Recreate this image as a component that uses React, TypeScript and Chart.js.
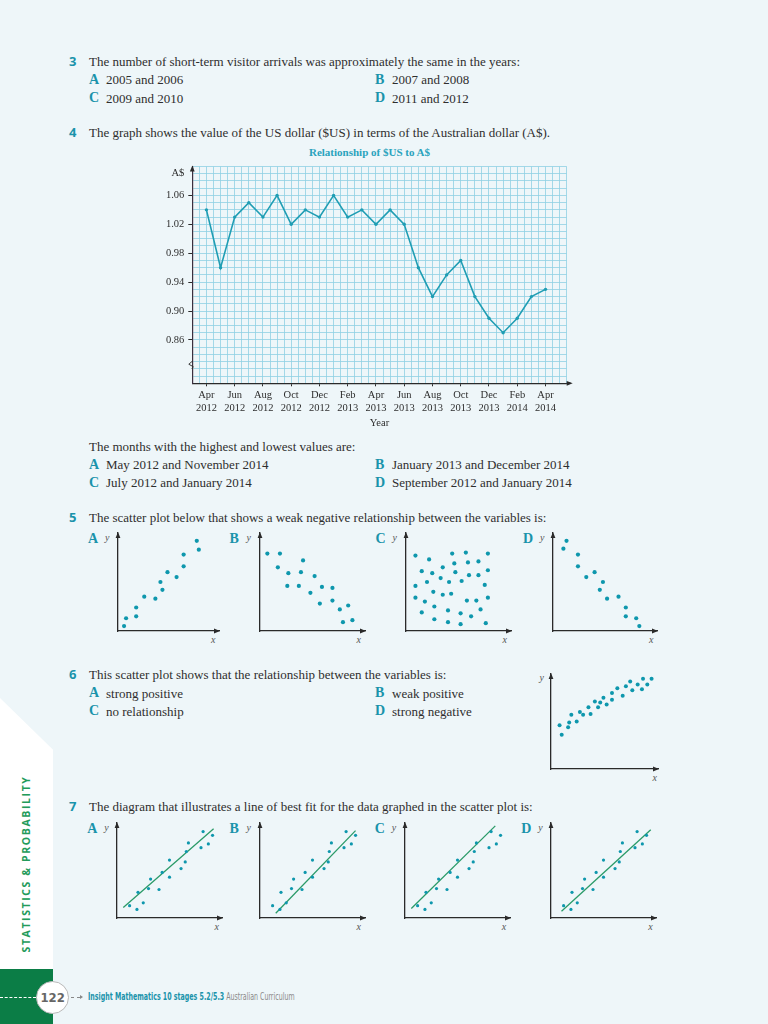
import React, { useEffect, useRef } from "react";
import { Chart, registerables } from "chart.js";

Chart.register(...registerables);

// ---------------- Q4 line chart data ----------------
const months = [
  "Apr 2012", "May 2012", "Jun 2012", "Jul 2012", "Aug 2012", "Sep 2012", "Oct 2012", "Nov 2012", "Dec 2012",
  "Jan 2013", "Feb 2013", "Mar 2013", "Apr 2013", "May 2013", "Jun 2013", "Jul 2013", "Aug 2013", "Sep 2013",
  "Oct 2013", "Nov 2013", "Dec 2013", "Jan 2014", "Feb 2014", "Mar 2014", "Apr 2014",
];
const usdInAud = [
  1.04, 0.96, 1.03, 1.05, 1.03, 1.06, 1.02, 1.04, 1.03,
  1.06, 1.03, 1.04, 1.02, 1.04, 1.02, 0.96, 0.92, 0.95,
  0.97, 0.92, 0.89, 0.87, 0.89, 0.92, 0.93,
];
const yTickLabelValues = [0.86, 0.9, 0.94, 0.98, 1.02, 1.06];
const yUnitLabel = "A$";
const yUnitLabelAt = 1.09;
const yBreakAt = 0.825;
const chartTitle = "Relationship of $US to A$";
const xAxisTitle = "Year";

// ---------------- Scatter plot data (x, y in 0..100 of each small axis) ----------------
const q5A = [[6, 5], [8, 13], [18, 15], [18, 24], [26, 35], [37, 33], [42, 50], [44, 42], [49, 60], [58, 55], [65, 66], [65, 78], [78, 92], [80, 83]];
const q5B = [[7, 79], [19, 79], [41, 72], [17, 65], [27, 59], [39, 60], [52, 56], [26, 46], [37, 46], [59, 45], [69, 44], [48, 39], [57, 28], [69, 31], [76, 22], [84, 26], [79, 9], [88, 11]];
const q5C = [[9, 77], [22, 73], [44, 79], [57, 80], [78, 79], [15, 61], [25, 59], [35, 65], [46, 69], [47, 60], [59, 70], [69, 71], [78, 62], [9, 46], [20, 50], [33, 54], [41, 50], [53, 51], [60, 57], [69, 57], [75, 47], [9, 34], [18, 30], [26, 40], [35, 37], [43, 38], [58, 31], [67, 31], [78, 34], [15, 19], [27, 25], [40, 21], [52, 18], [62, 15], [71, 22], [27, 12], [40, 9], [52, 7], [76, 8]];
const q5D = [[13, 92], [10, 84], [24, 78], [24, 66], [32, 55], [40, 60], [48, 50], [45, 42], [52, 33], [63, 35], [70, 24], [70, 15], [80, 13], [83, 5]];
const q6Points = [[8, 46], [10, 36], [16, 44], [17, 49], [19, 57], [24, 50], [27, 60], [30, 57], [35, 65], [37, 58], [41, 71], [44, 65], [46, 70], [49, 75], [52, 68], [57, 80], [57, 73], [62, 85], [67, 77], [70, 87], [74, 92], [76, 83], [81, 89], [85, 84], [86, 95], [90, 89], [94, 95]];
const q7Points = [[12, 13], [19, 9], [25, 16], [20, 27], [30, 31], [32, 41], [40, 30], [43, 48], [50, 61], [50, 43], [61, 52], [65, 59], [66, 70], [68, 79], [80, 74], [82, 91], [87, 78], [91, 87]];
const q7LineA = [[6, 11], [92, 94]];
const q7LineB = [[15, 5], [91, 92]];
const q7LineC = [[6, 10], [86, 97]];
const q7LineD = [[10, 7], [95, 93]];

// ---------------- Styles ----------------
const BG = "#eef6f9";
const TEXT = "#2e2e2e";
const TEAL = "#1a93ab";
const LINE = "#1f9db3";
const DOT = "#0e97ad";
const GRID = "#8fd0e3";
const AXIS = "#2a2a2a";
const FIT = "#2a9a68";
const SERIF = '"Liberation Serif", "Times New Roman", serif';
const SANS = '"Open Sans", "DejaVu Sans", sans-serif';
const COND = '"DejaVu Sans Condensed", "DejaVu Sans", sans-serif';

const miniArrows = {
  id: "miniArrows",
  afterDraw(chart: any) {
    const { ctx, chartArea } = chart;
    const { left, right, top, bottom } = chartArea;
    ctx.save();
    ctx.fillStyle = AXIS;
    ctx.beginPath();
    ctx.moveTo(left, top - 1);
    ctx.lineTo(left - 2.4, top + 5);
    ctx.lineTo(left + 2.4, top + 5);
    ctx.closePath();
    ctx.fill();
    ctx.beginPath();
    ctx.moveTo(right + 1, bottom);
    ctx.lineTo(right - 5, bottom - 2.4);
    ctx.lineTo(right - 5, bottom + 2.4);
    ctx.closePath();
    ctx.fill();
    ctx.restore();
  },
};

const mainDecor = {
  id: "mainDecor",
  afterDraw(chart: any) {
    const { ctx, chartArea } = chart;
    const { left, right, top, bottom } = chartArea;
    ctx.save();
    ctx.strokeStyle = AXIS;
    ctx.fillStyle = AXIS;
    ctx.lineWidth = 1.2;
    ctx.beginPath();
    ctx.moveTo(right, bottom);
    ctx.lineTo(right + 4, bottom);
    ctx.stroke();
    ctx.beginPath();
    ctx.moveTo(right + 6, bottom);
    ctx.lineTo(right, bottom - 2.4);
    ctx.lineTo(right, bottom + 2.4);
    ctx.closePath();
    ctx.fill();
    ctx.beginPath();
    ctx.moveTo(left, top - 1);
    ctx.lineTo(left - 2.4, top + 5);
    ctx.lineTo(left + 2.4, top + 5);
    ctx.closePath();
    ctx.fill();
    const yb = chart.scales.y.getPixelForValue(yBreakAt);
    ctx.lineWidth = 0.9;
    ctx.beginPath();
    ctx.moveTo(left, yb - 4);
    ctx.lineTo(left - 3.5, yb - 1);
    ctx.lineTo(left + 1, yb + 1.5);
    ctx.lineTo(left - 0.5, yb + 3.5);
    ctx.stroke();
    ctx.restore();
  },
};

function UsdChart() {
  const ref = useRef<HTMLCanvasElement>(null);
  useEffect(() => {
    const near = (a: number, b: number) => Math.abs(a - b) < 1e-6;
    const isYLabel = (v: number) => yTickLabelValues.some((l) => near(l, v));
    const isMonthLabel = (v: number) =>
      near(v, Math.round(v)) && Math.round(v) % 2 === 0 && v >= 0 && Math.round(v) < months.length;
    const tickFont = { family: "Liberation Serif", size: 10.5, lineHeight: 1.24 };
    const chart = new Chart(ref.current as HTMLCanvasElement, {
      type: "line",
      data: {
        datasets: [
          {
            data: usdInAud.map((y, i) => ({ x: i, y })),
            borderColor: LINE,
            backgroundColor: LINE,
            pointBackgroundColor: LINE,
            borderWidth: 1.6,
            pointRadius: 1.7,
            pointBorderWidth: 0,
            tension: 0,
            clip: false,
          } as any,
        ],
      },
      options: {
        animation: false,
        responsive: false,
        layout: { padding: { left: 0, top: 7.3, right: 12.3, bottom: 0 } },
        plugins: { legend: { display: false }, tooltip: { enabled: false }, title: { display: false } },
        scales: {
          x: {
            type: "linear",
            min: -1,
            max: 25.5,
            ticks: {
              stepSize: 0.5,
              autoSkip: false,
              maxRotation: 0,
              minRotation: 0,
              padding: 2.2,
              color: TEXT,
              font: tickFont,
              callback: (value: any) => {
                const v = Number(value);
                if (!isMonthLabel(v)) return "";
                const [m, y] = months[Math.round(v)].split(" ");
                return [m, y];
              },
            },
            grid: {
              color: GRID,
              lineWidth: 0.8,
              tickLength: 3,
              tickWidth: 1,
              tickColor: (c: any) => (isMonthLabel(c.tick.value) ? AXIS : "rgba(0,0,0,0)"),
            },
            border: { display: true, color: AXIS, width: 1.2 },
            title: {
              display: true,
              text: xAxisTitle,
              color: TEXT,
              font: { family: "Liberation Serif", size: 10.5, lineHeight: 1.2 },
              padding: { top: 0, bottom: 2.4 },
            },
            afterFit: (s: any) => {
              s.height = 48.7;
            },
          },
          y: {
            type: "linear",
            min: 0.8,
            max: 1.1,
            ticks: {
              stepSize: 0.01,
              autoSkip: false,
              padding: 4,
              color: TEXT,
              font: tickFont,
              callback: (value: any) => {
                const v = Number(value);
                if (isYLabel(v)) return v.toFixed(2);
                if (near(v, yUnitLabelAt)) return yUnitLabel;
                return "";
              },
            },
            grid: {
              color: GRID,
              lineWidth: 0.8,
              tickLength: 4,
              tickWidth: 1,
              tickColor: (c: any) => (isYLabel(c.tick.value) ? AXIS : "rgba(0,0,0,0)"),
            },
            border: { display: true, color: "#3b2f3f", width: 1.2 },
            afterFit: (s: any) => {
              s.width = 52.3;
            },
          },
        },
      } as any,
      plugins: [mainDecor],
    });
    return () => chart.destroy();
  }, []);
  return (
    <canvas
      ref={ref}
      width={439}
      height={276}
      style={{ position: "absolute", left: 140, top: 156, width: 439, height: 276 }}
    />
  );
}

function ScatterMini(props: any) {
  const { ax, right, top, bottom, points, line, r = 2 } = props;
  const ref = useRef<HTMLCanvasElement>(null);
  const pad = 6;
  const w = Math.round(right - ax + 2 * pad);
  const h = Math.round(bottom - top + 2 * pad);
  useEffect(() => {
    const datasets: any[] = [
      {
        data: points.map(([x, y]: number[]) => ({ x, y })),
        backgroundColor: DOT,
        pointRadius: r,
        pointBorderWidth: 0,
        clip: false,
      },
    ];
    if (line) {
      datasets.push({
        data: line.map(([x, y]: number[]) => ({ x, y })),
        showLine: true,
        borderColor: FIT,
        borderWidth: 1.3,
        pointRadius: 0,
        clip: false,
      });
    }
    const axisCfg = (isX: boolean) => ({
      type: "linear",
      min: 0,
      max: 100,
      ticks: { display: false },
      grid: { display: false, drawTicks: false },
      border: { display: true, color: AXIS, width: 1.3 },
      afterFit: (s: any) => {
        if (isX) s.height = 0;
        else s.width = 0;
      },
    });
    const chart = new Chart(ref.current as HTMLCanvasElement, {
      type: "scatter",
      data: { datasets },
      options: {
        animation: false,
        responsive: false,
        layout: { padding: pad },
        plugins: { legend: { display: false }, tooltip: { enabled: false } },
        scales: { x: axisCfg(true), y: axisCfg(false) },
      } as any,
      plugins: [miniArrows],
    });
    return () => chart.destroy();
  }, []);
  return (
    <canvas
      ref={ref}
      width={w}
      height={h}
      style={{ position: "absolute", left: ax - pad, top: top - pad, width: w, height: h }}
    />
  );
}

function T(props: any) {
  const { x, y, s = 13, c = TEXT, w = 400, f = SERIF, i = false, children, style } = props;
  return (
    <div
      style={{
        position: "absolute",
        left: x,
        top: y - s * 0.6,
        fontSize: s,
        lineHeight: `${s * 1.2}px`,
        color: c,
        fontWeight: w,
        fontFamily: f,
        fontStyle: i ? "italic" : "normal",
        whiteSpace: "nowrap",
        ...style,
      }}
    >
      {children}
    </div>
  );
}

const Num = ({ y, n }: any) => <T x={69} y={y} s={13} c={TEAL} w={700} f={SANS}>{n}</T>;
const Opt = ({ x, y, l, text }: any) => (
  <>
    <T x={x} y={y} s={14} c={TEAL} w={700}>{l}</T>
    <T x={x + 17} y={y}>{text}</T>
  </>
);
const AxisLetters = ({ ax, right, top, bottom, letter }: any) => (
  <>
    <T x={ax - 30} y={top + 6} s={14} c={TEAL} w={700}>{letter}</T>
    <T x={ax - 13} y={top + 5} s={10} c="#555" i>y</T>
    <T x={right - 8} y={bottom + 9} s={10} c="#555" i>x</T>
  </>
);

const q5Plots = [
  { letter: "A", ax: 118.1, right: 219.1, pts: q5A },
  { letter: "B", ax: 259.5, right: 364.4, pts: q5B },
  { letter: "C", ax: 405.6, right: 510.5, pts: q5C },
  { letter: "D", ax: 553.0, right: 657.1, pts: q5D },
];
const q7Plots = [
  { letter: "A", ax: 117.2, right: 222.6, line: q7LineA },
  { letter: "B", ax: 259.5, right: 364.4, line: q7LineB },
  { letter: "C", ax: 404.7, right: 509.7, line: q7LineC },
  { letter: "D", ax: 551.3, right: 656.2, line: q7LineD },
];

export default function App() {
  return (
    <div
      style={{
        position: "absolute",
        left: 0,
        top: 0,
        width: 768,
        height: 1024,
        background: BG,
        overflow: "hidden",
        fontFamily: SERIF,
        color: TEXT,
      }}
    >
      {/* left margin decorations */}
      <div
        style={{
          position: "absolute",
          left: 0,
          top: 698,
          width: 53.3,
          height: 271,
          background: "#ffffff",
          clipPath: "polygon(0 0, 100% 52px, 100% 100%, 0 100%)",
        }}
      />
      <div
        style={{
          position: "absolute",
          left: 26,
          top: 864,
          transform: "translate(-50%, -50%) rotate(-90deg)",
          fontFamily: SANS,
          fontWeight: 700,
          fontSize: 10.5,
          letterSpacing: 1.6,
          color: "#239b5a",
          whiteSpace: "nowrap",
        }}
      >
        STATISTICS &amp; PROBABILITY
      </div>
      <div style={{ position: "absolute", left: 0, top: 969.3, width: 53.3, height: 55, background: "#0b7d46" }} />
      <div style={{ position: "absolute", left: 0, top: 997, width: 36, height: 0, borderTop: "1px dashed #ffffff" }} />
      <div
        style={{
          position: "absolute",
          left: 52.7 - 16.7,
          top: 997.3 - 16.7,
          width: 33.4,
          height: 33.4,
          borderRadius: "50%",
          background: "#ffffff",
          border: "1px solid #b8b8b8",
          boxSizing: "border-box",
          display: "flex",
          alignItems: "center",
          justifyContent: "center",
          fontFamily: COND,
          fontWeight: 700,
          fontSize: 13,
          color: "#666",
        }}
      >
        122
      </div>
      <div style={{ position: "absolute", left: 70.7, top: 997, width: 9, height: 0, borderTop: "1px dashed #888" }} />
      <div
        style={{
          position: "absolute",
          left: 79.5,
          top: 995,
          width: 0,
          height: 0,
          borderTop: "2px solid transparent",
          borderBottom: "2px solid transparent",
          borderLeft: "3px solid #888",
        }}
      />
      <div
        style={{
          position: "absolute",
          left: 88.3,
          top: 990,
          fontFamily: COND,
          fontSize: 10,
          lineHeight: "14px",
          whiteSpace: "nowrap",
          transform: "scaleX(0.7)",
          transformOrigin: "left center",
        }}
      >
        <span style={{ color: TEAL, fontWeight: 700 }}>Insight Mathematics 10 stages 5.2/5.3</span>
        <span style={{ color: "#8a8a8a" }}>{"  "}Australian Curriculum</span>
      </div>

      {/* Question 3 */}
      <Num y={62} n="3" />
      <T x={89} y={62}>The number of short-term visitor arrivals was approximately the same in the years:</T>
      <Opt x={89} y={80} l="A" text="2005 and 2006" />
      <Opt x={375} y={80} l="B" text="2007 and 2008" />
      <Opt x={89} y={98.5} l="C" text="2009 and 2010" />
      <Opt x={375} y={98.5} l="D" text="2011 and 2012" />

      {/* Question 4 */}
      <Num y={132.5} n="4" />
      <T x={89} y={132.5}>The graph shows the value of the US dollar ($US) in terms of the Australian dollar (A$).</T>
      <T x={369.5} y={152.7} s={11} c="#2aa3bd" w={700} style={{ transform: "translateX(-50%)" }}>
        {chartTitle}
      </T>
      <UsdChart />
      <T x={89} y={446.7}>The months with the highest and lowest values are:</T>
      <Opt x={89} y={465} l="A" text="May 2012 and November 2014" />
      <Opt x={375} y={465} l="B" text="January 2013 and December 2014" />
      <Opt x={89} y={483} l="C" text="July 2012 and January 2014" />
      <Opt x={375} y={483} l="D" text="September 2012 and January 2014" />

      {/* Question 5 */}
      <Num y={517.3} n="5" />
      <T x={89} y={517.3}>The scatter plot below that shows a weak negative relationship between the variables is:</T>
      {q5Plots.map((p) => (
        <React.Fragment key={"q5" + p.letter}>
          <AxisLetters ax={p.ax} right={p.right} top={533.3} bottom={631} letter={p.letter} />
          <ScatterMini ax={p.ax} right={p.right} top={533.3} bottom={631} points={p.pts} r={2.1} />
        </React.Fragment>
      ))}

      {/* Question 6 */}
      <Num y={675} n="6" />
      <T x={89} y={675}>This scatter plot shows that the relationship between the variables is:</T>
      <Opt x={89} y={693.3} l="A" text="strong positive" />
      <Opt x={375} y={693.3} l="B" text="weak positive" />
      <Opt x={89} y={711.7} l="C" text="no relationship" />
      <Opt x={375} y={711.7} l="D" text="strong negative" />
      <T x={539.5} y={677.7} s={10} c="#555" i>y</T>
      <T x={652.5} y={778.3} s={10} c="#555" i>x</T>
      <ScatterMini ax={551} right={658.3} top={674.3} bottom={769.7} points={q6Points} r={2} />

      {/* Question 7 */}
      <Num y={806.7} n="7" />
      <T x={89} y={806.7}>The diagram that illustrates a line of best fit for the data graphed in the scatter plot is:</T>
      {q7Plots.map((p) => (
        <React.Fragment key={"q7" + p.letter}>
          <AxisLetters ax={p.ax} right={p.right} top={823.3} bottom={918.3} letter={p.letter} />
          <ScatterMini ax={p.ax} right={p.right} top={823.3} bottom={918.3} points={q7Points} line={p.line} r={1.6} />
        </React.Fragment>
      ))}
    </div>
  );
}
